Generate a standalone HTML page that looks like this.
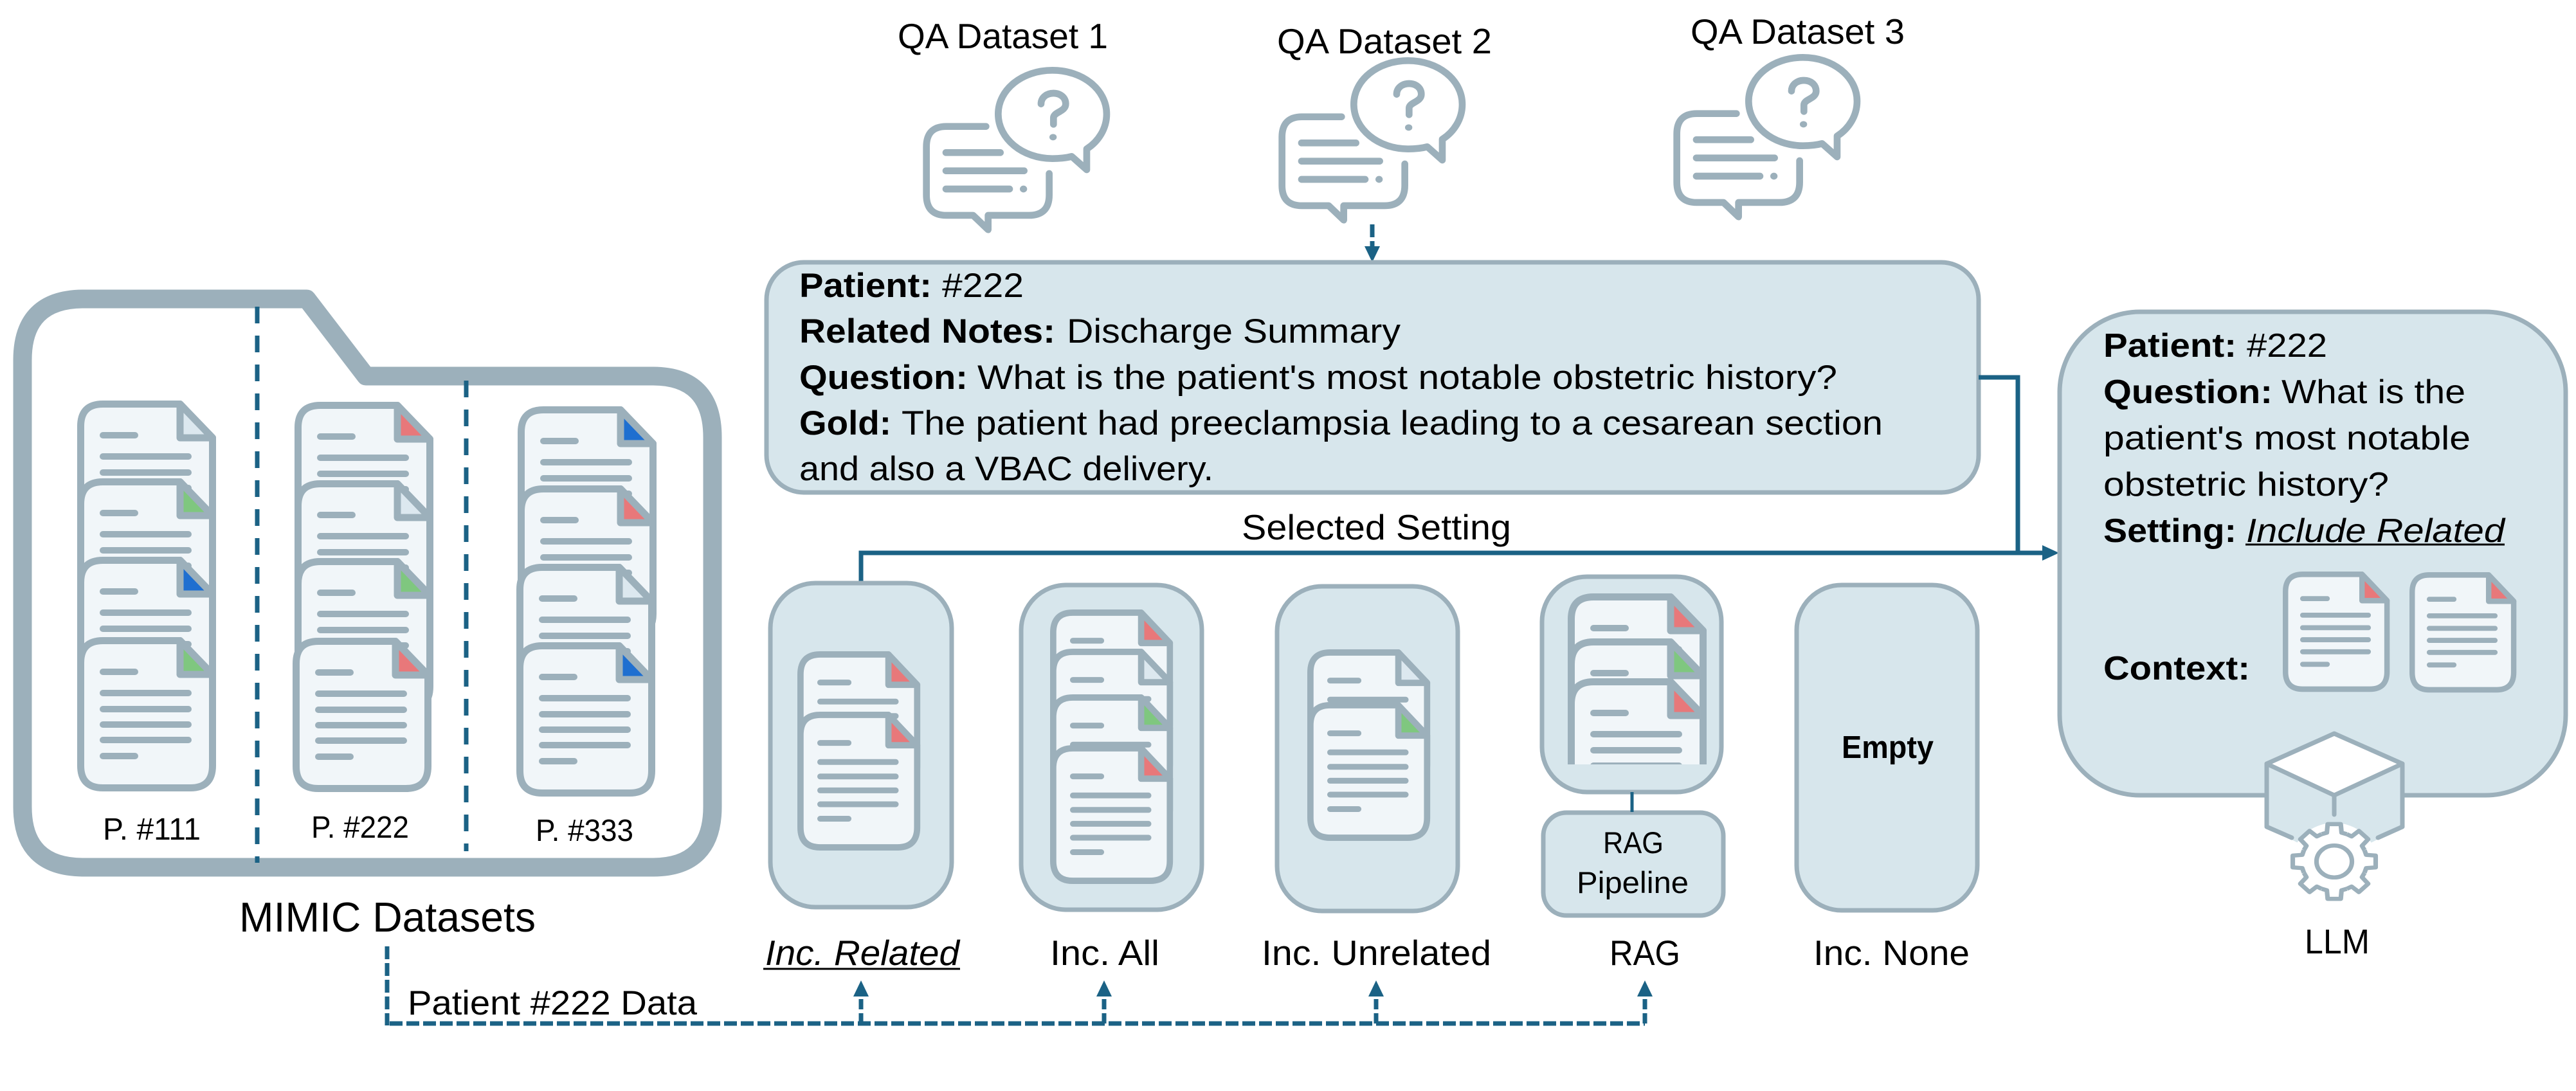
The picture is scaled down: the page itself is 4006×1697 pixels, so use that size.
<!DOCTYPE html>
<html><head><meta charset="utf-8"><style>
html,body{margin:0;padding:0;background:#fff}
svg{display:block}
text{font-family:"Liberation Sans",sans-serif;fill:#000}
.b{font-weight:bold}
</style></head><body>
<svg xmlns="http://www.w3.org/2000/svg" width="4006" height="1697" viewBox="0 0 4006 1697">
<defs>
<g id="doc">
<path d="M160,5.5H40Q5.5,5.5 5.5,40V200Q5.5,234.5 40,234.5H176Q210.5,234.5 210.5,200V58Z" fill="#f1f6f9" stroke="#9cb0bb" stroke-width="11" stroke-linejoin="round"/>
<path d="M160,5.5L210.5,58H160Z" fill="currentColor" stroke="#9cb0bb" stroke-width="11" stroke-linejoin="round"/>
<g stroke="#9cb0bb" stroke-width="10" stroke-linecap="round">
<path d="M40,54H90M40,87H173M40,112H173M40,136H173M40,160H173M40,185H90"/>
</g>
</g>
<g id="qa" fill="none" stroke="#9cb0bb" stroke-width="32" stroke-linecap="round" stroke-linejoin="round">
<path d="M400,290H215Q122,290 122,385V610Q122,705 215,705H340L410,772V705H600Q695,705 695,610V510"/>
<path d="M213,412H467M213,497H578M213,582H510"/>
<ellipse cx="575" cy="582" rx="17" ry="16" fill="#9cb0bb" stroke="none"/>
<path d="M870,395V492L800,430C770,438 740,440 710,440C570,440 457,347 457,232C457,117 570,28 710,28C850,28 963,117 963,232C963,300 925,360 870,395Z"/>
<path d="M657,185C657,155 683,135 715,135C747,135 772,155 772,185C772,222 715,222 715,250V280"/>
<ellipse cx="713" cy="340" rx="17" ry="15" fill="#9cb0bb" stroke="none"/>
</g>
<clipPath id="c4"><rect x="2400" y="890" width="280" height="299"/></clipPath>
<path id="t" d="M-19.1,-46.2L-11.2,-48.7L-10,-63.2L10,-63.2L11.2,-48.7L19.1,-46.2" fill="none" stroke="#9cb0bb" stroke-width="7" stroke-linejoin="round"/>
</defs>

<!-- folder -->
<path d="M130,465H477L569,585H1015Q1108,585 1108,680V1255Q1108,1349 1015,1349H130Q35,1349 35,1255V560Q35,465 130,465Z" fill="#fff" stroke="#9cb0bb" stroke-width="29" stroke-linejoin="round"/>
<g stroke="#1b6285" stroke-width="7" fill="none" stroke-dasharray="26 19">
<path d="M400,477V1342"/><path d="M725,592V1324"/>
</g>
<use href="#doc" x="120" y="623" color="#dce8ef"/>
<use href="#doc" x="120" y="744" color="#7fc77f"/>
<use href="#doc" x="120" y="866" color="#1f6fd0"/>
<use href="#doc" x="120" y="991" color="#7fc77f"/>
<use href="#doc" x="458" y="625" color="#e8787a"/>
<use href="#doc" x="458" y="747" color="#dce8ef"/>
<use href="#doc" x="458" y="868" color="#7fc77f"/>
<use href="#doc" x="455" y="992" color="#e8787a"/>
<use href="#doc" x="805" y="632" color="#1f6fd0"/>
<use href="#doc" x="805" y="755" color="#e8787a"/>
<use href="#doc" x="803" y="877" color="#dce8ef"/>
<use href="#doc" x="803" y="999" color="#1f6fd0"/>
<text x="160" y="1306" font-size="48" textLength="152" lengthAdjust="spacingAndGlyphs">P. #111</text>
<text x="484" y="1303" font-size="48" textLength="152" lengthAdjust="spacingAndGlyphs">P. #222</text>
<text x="833" y="1308" font-size="48" textLength="152" lengthAdjust="spacingAndGlyphs">P. #333</text>
<text x="372" y="1449" font-size="65" textLength="461" lengthAdjust="spacingAndGlyphs">MIMIC Datasets</text>

<!-- QA -->
<use href="#qa" transform="translate(1400,100) scale(.3333)"/>
<use href="#qa" transform="translate(1953,85) scale(.3333)"/>
<use href="#qa" transform="translate(2567,80) scale(.3333)"/>
<text x="1396" y="75" font-size="55" textLength="327" lengthAdjust="spacingAndGlyphs">QA Dataset 1</text>
<text x="1986" y="83" font-size="55" textLength="334" lengthAdjust="spacingAndGlyphs">QA Dataset 2</text>
<text x="2629" y="68" font-size="55" textLength="333" lengthAdjust="spacingAndGlyphs">QA Dataset 3</text>
<path d="M2134,349V385" stroke="#1b6285" stroke-width="7" fill="none" stroke-dasharray="20 6"/>
<path d="M2122,383H2146L2134,408Z" fill="#1b6285"/>

<!-- main box -->
<rect x="1192" y="408" width="1885" height="358" rx="58" fill="#d7e6ec" stroke="#9cb0bb" stroke-width="7"/>
<text class="b" x="1243" y="462" font-size="53" textLength="206" lengthAdjust="spacingAndGlyphs">Patient:</text>
<text x="1465" y="462" font-size="53" textLength="127" lengthAdjust="spacingAndGlyphs">#222</text>
<text class="b" x="1243" y="533" font-size="53" textLength="398" lengthAdjust="spacingAndGlyphs">Related Notes:</text>
<text x="1659" y="533" font-size="53" textLength="519" lengthAdjust="spacingAndGlyphs">Discharge Summary</text>
<text class="b" x="1243" y="605" font-size="53" textLength="262" lengthAdjust="spacingAndGlyphs">Question:</text>
<text x="1520" y="605" font-size="53" textLength="1337" lengthAdjust="spacingAndGlyphs">What is the patient's most notable obstetric history?</text>
<text class="b" x="1243" y="676" font-size="53" textLength="143" lengthAdjust="spacingAndGlyphs">Gold:</text>
<text x="1402" y="676" font-size="53" textLength="1526" lengthAdjust="spacingAndGlyphs">The patient had preeclampsia leading to a cesarean section</text>
<text x="1243" y="747" font-size="53" textLength="644" lengthAdjust="spacingAndGlyphs">and also a VBAC delivery.</text>

<!-- connectors -->
<path d="M1339,906V860H3180" fill="none" stroke="#1b6285" stroke-width="7"/>
<path d="M3077,587H3138V860" fill="none" stroke="#1b6285" stroke-width="7"/>
<path d="M3176,848V872L3202,860Z" fill="#1b6285"/>
<text x="1931" y="839" font-size="55" textLength="419" lengthAdjust="spacingAndGlyphs">Selected Setting</text>

<!-- setting boxes -->
<g fill="#d7e6ec" stroke="#9cb0bb" stroke-width="7">
<rect x="1198" y="907" width="282" height="504" rx="70"/>
<rect x="1588" y="910" width="281" height="505" rx="70"/>
<rect x="1986" y="912" width="281" height="505" rx="70"/>
<rect x="2398" y="897" width="279" height="335" rx="70"/>
<rect x="2400" y="1264" width="280" height="160" rx="36"/>
<rect x="2794" y="910" width="281" height="506" rx="70"/>
</g>
<path d="M2538,1232V1263" stroke="#1b6285" stroke-width="5"/>
<use href="#doc" transform="translate(1240,1013) scale(.885,.9)" color="#e8787a"/>
<use href="#doc" transform="translate(1240,1107) scale(.885,.9)" color="#e8787a"/>
<use href="#doc" transform="translate(1633,948) scale(.885,.9)" color="#e8787a"/>
<use href="#doc" transform="translate(1633,1009) scale(.885,.9)" color="#dce8ef"/>
<use href="#doc" transform="translate(1633,1080) scale(.885,.9)" color="#7fc77f"/>
<use href="#doc" transform="translate(1633,1159) scale(.885,.9)" color="#e8787a"/>
<use href="#doc" transform="translate(2033,1010) scale(.885,.9)" color="#dce8ef"/>
<use href="#doc" transform="translate(2033,1092) scale(.885,.9)" color="#7fc77f"/>
<g clip-path="url(#c4)">
<use href="#doc" x="2438" y="923" color="#e8787a"/>
<use href="#doc" x="2438" y="993" color="#7fc77f"/>
<use href="#doc" x="2438" y="1055" color="#e8787a"/>
</g>
<text class="b" x="2864" y="1179" font-size="49" textLength="143" lengthAdjust="spacingAndGlyphs">Empty</text>
<text x="2493" y="1327" font-size="47" textLength="94" lengthAdjust="spacingAndGlyphs">RAG</text>
<text x="2452" y="1389" font-size="47" textLength="174" lengthAdjust="spacingAndGlyphs">Pipeline</text>
<text x="1190" y="1501" font-size="55" font-style="italic" textLength="302" lengthAdjust="spacingAndGlyphs">Inc. Related</text>
<path d="M1187,1507H1493" stroke="#000" stroke-width="3"/>
<text x="1633" y="1501" font-size="55" textLength="170" lengthAdjust="spacingAndGlyphs">Inc. All</text>
<text x="1962" y="1501" font-size="55" textLength="357" lengthAdjust="spacingAndGlyphs">Inc. Unrelated</text>
<text x="2503" y="1501" font-size="55" textLength="110" lengthAdjust="spacingAndGlyphs">RAG</text>
<text x="2820" y="1501" font-size="55" textLength="243" lengthAdjust="spacingAndGlyphs">Inc. None</text>

<!-- bottom dashed -->
<g fill="none" stroke="#1b6285" stroke-width="7">
<path d="M602,1472V1595" stroke-dasharray="20 6"/>
<path d="M606,1592H2558" stroke-dasharray="20 6"/>
<path d="M1339,1592V1548" stroke-dasharray="16 6"/>
<path d="M1717,1592V1548" stroke-dasharray="16 6"/>
<path d="M2140,1592V1548" stroke-dasharray="16 6"/>
<path d="M2558,1592V1548" stroke-dasharray="16 6"/>
</g>
<g fill="#1b6285">
<path d="M1327,1550H1351L1339,1525Z"/>
<path d="M1705,1550H1729L1717,1525Z"/>
<path d="M2128,1550H2152L2140,1525Z"/>
<path d="M2546,1550H2570L2558,1525Z"/>
</g>
<text x="634" y="1578" font-size="53" textLength="450" lengthAdjust="spacingAndGlyphs">Patient #222 Data</text>

<!-- right box -->
<rect x="3203" y="485" width="787" height="752" rx="125" fill="#d7e6ec" stroke="#9cb0bb" stroke-width="7"/>
<text class="b" x="3271" y="555" font-size="52" textLength="207" lengthAdjust="spacingAndGlyphs">Patient:</text>
<text x="3494" y="555" font-size="52" textLength="125" lengthAdjust="spacingAndGlyphs">#222</text>
<text class="b" x="3271" y="627" font-size="52" textLength="263" lengthAdjust="spacingAndGlyphs">Question:</text>
<text x="3548" y="627" font-size="52" textLength="286" lengthAdjust="spacingAndGlyphs">What is the</text>
<text x="3271" y="699" font-size="52" textLength="571" lengthAdjust="spacingAndGlyphs">patient's most notable</text>
<text x="3271" y="771" font-size="52" textLength="444" lengthAdjust="spacingAndGlyphs">obstetric history?</text>
<text class="b" x="3271" y="843" font-size="52" textLength="207" lengthAdjust="spacingAndGlyphs">Setting:</text>
<text x="3493" y="843" font-size="52" font-style="italic" textLength="402" lengthAdjust="spacingAndGlyphs">Include Related</text>
<path d="M3492,847H3895" stroke="#000" stroke-width="3"/>
<text class="b" x="3271" y="1057" font-size="52" textLength="228" lengthAdjust="spacingAndGlyphs">Context:</text>
<use href="#doc" transform="translate(3550,889) scale(.77,.78)" color="#e8787a"/>
<use href="#doc" transform="translate(3747,890) scale(.77,.78)" color="#e8787a"/>

<!-- LLM -->
<path d="M3525,1188L3630,1237L3736,1188V1286L3630,1340L3525,1286Z" fill="#d7e6ec"/>
<path d="M3630,1141L3525,1188L3630,1237L3736,1188Z" fill="#fff" stroke="#9cb0bb" stroke-width="7" stroke-linejoin="round"/>
<path d="M3525,1188V1286L3564,1303M3736,1188V1286L3698,1303M3630,1237V1267" fill="none" stroke="#9cb0bb" stroke-width="7" stroke-linecap="round" stroke-linejoin="round"/>
<ellipse cx="3630" cy="1340" rx="66" ry="60" fill="#fff"/>
<g transform="translate(3630,1340) scale(1.02,.92)">
<use href="#t"/><use href="#t" transform="rotate(45)"/><use href="#t" transform="rotate(90)"/><use href="#t" transform="rotate(135)"/>
<use href="#t" transform="rotate(180)"/><use href="#t" transform="rotate(225)"/><use href="#t" transform="rotate(270)"/><use href="#t" transform="rotate(315)"/>
<circle r="27" fill="none" stroke="#9cb0bb" stroke-width="7"/>
</g>
<text x="3584" y="1483" font-size="54" textLength="101" lengthAdjust="spacingAndGlyphs">LLM</text>
</svg>
</body></html>
